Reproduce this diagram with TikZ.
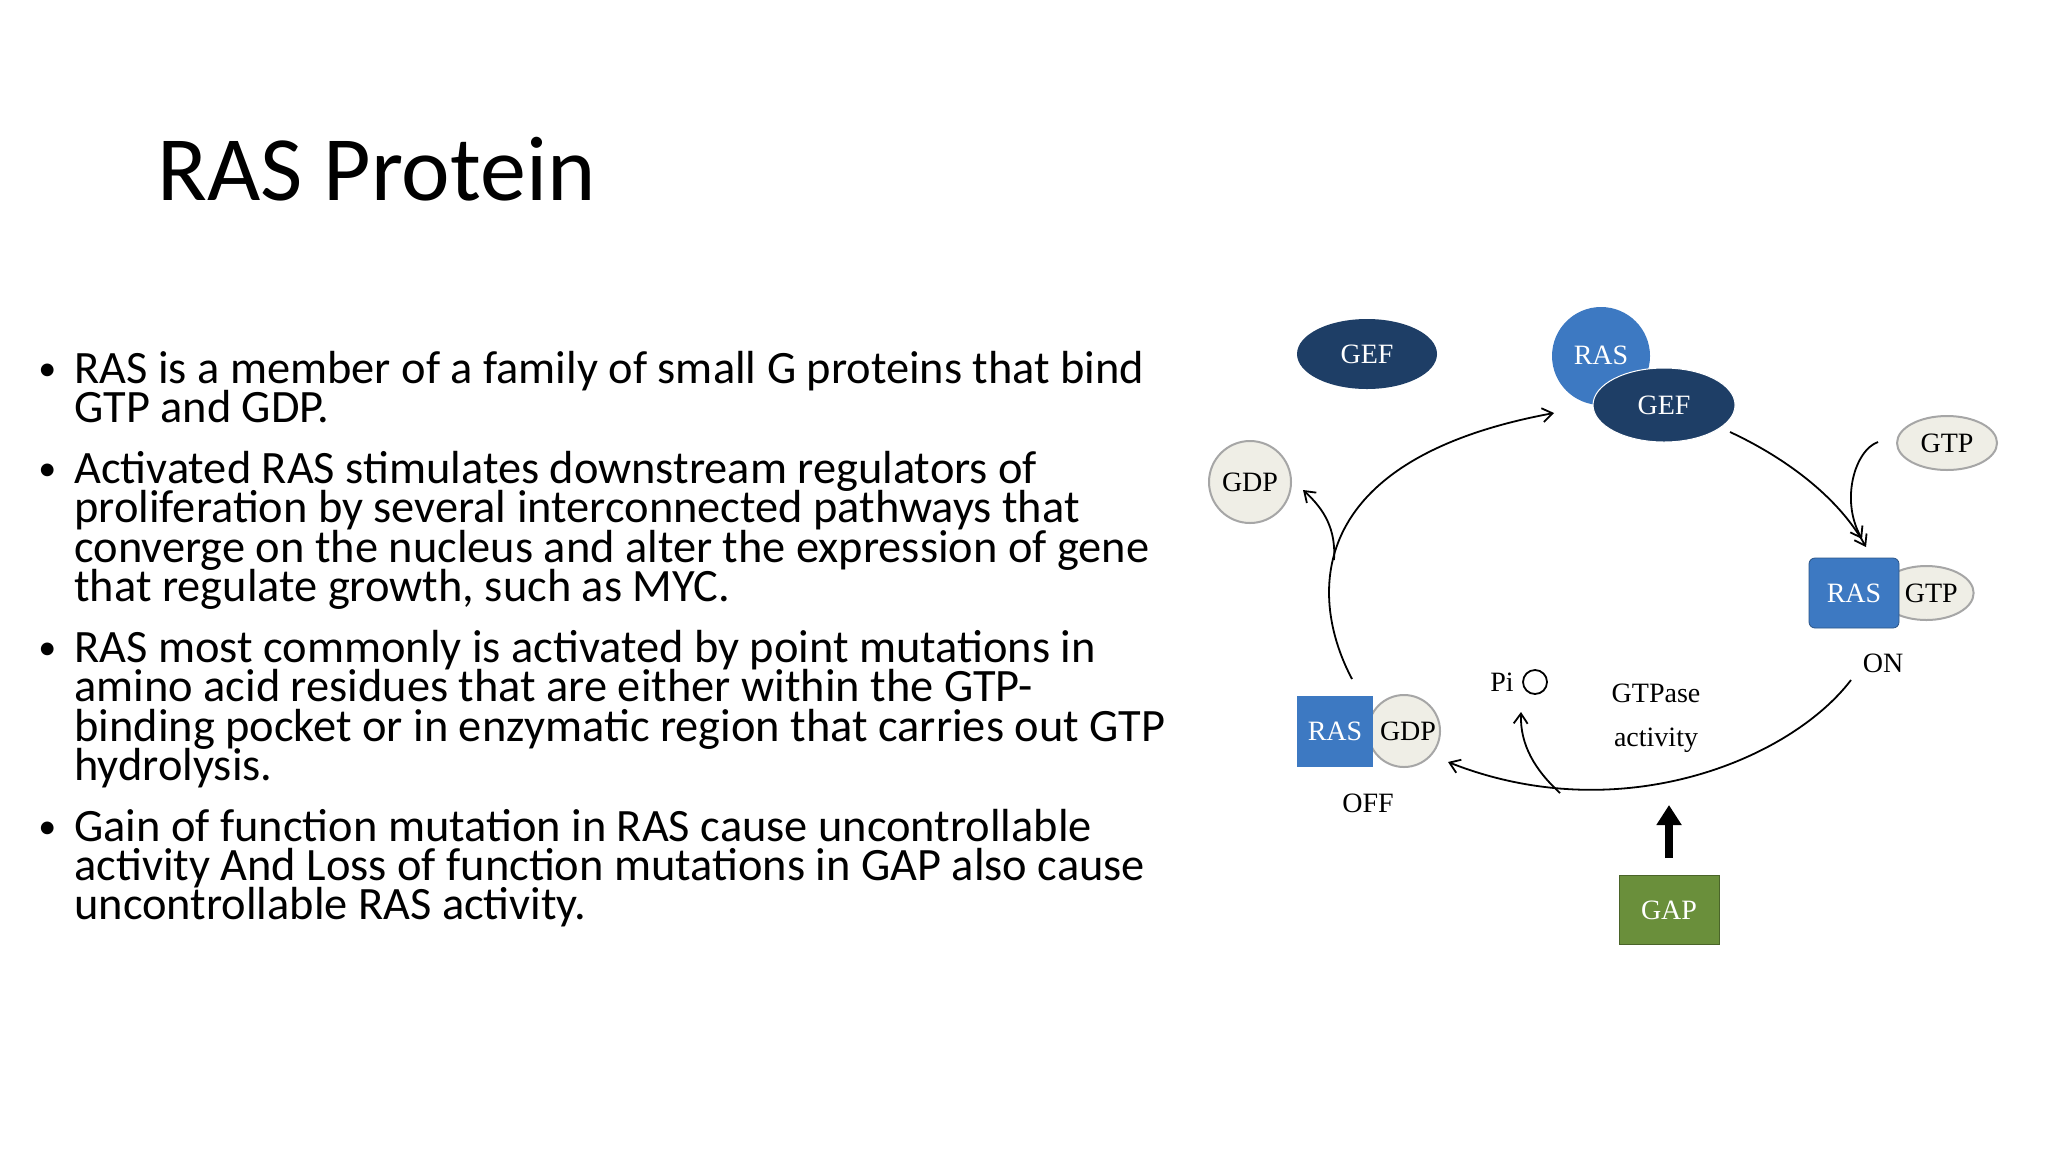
\documentclass[tikz,border=0pt]{standalone}
\usepackage{fontspec}
\setmainfont{Carlito}
\newfontfamily\dfont{Liberation Serif}
\usetikzlibrary{arrows.meta,shapes.geometric}
\definecolor{navy}{HTML}{1E3E66}
\definecolor{mblue}{HTML}{3D79C2}
\definecolor{pale}{HTML}{EFEEE6}
\definecolor{gapg}{HTML}{6A8F3B}
\begin{document}
\begin{tikzpicture}[x=0.5pt,y=-0.5pt,
  bl/.style={anchor=base west,inner sep=0,font=\fontsize{23.2}{26}\selectfont},
  dt/.style={font=\dfont\fontsize{14}{16}\selectfont,inner sep=1pt},
  darkell/.style={ellipse,fill=navy,text=white,dt},
  paleell/.style={ellipse,fill=pale,draw=gray!70,line width=1pt,dt},
  arr/.style={-{Straight Barb[length=5pt,width=7pt]},line width=0.9pt}]
\useasboundingbox[fill=white] (0,0) rectangle (2048,1152);
\node[anchor=base west,inner sep=0,font=\fontsize{46}{50}\selectfont] (title) at (157,200) {RAS Protein};
% bullets
\foreach \y in {383,483,662,841} \node[bl,font=\fontsize{18}{20}\selectfont] at (38,\y-3) {•};
\node[bl] (b1a) at (74,383) {RAS is a member of a family of small G proteins that bind};
\node[bl] (b1b) at (74,422) {GTP and GDP.};
\node[bl] (b2a) at (74,483) {Activated RAS stimulates downstream regulators of};
\node[bl] (b2b) at (74,522) {proliferation by several interconnected pathways that};
\node[bl] (b2c) at (74,562) {converge on the nucleus and alter the expression of gene};
\node[bl] (b2d) at (74,601) {that regulate growth, such as MYC.};
\node[bl] (b3a) at (74,662) {RAS most commonly is activated by point mutations in};
\node[bl] (b3b) at (74,701) {amino acid residues that are either within the GTP-};
\node[bl] (b3c) at (74,741) {binding pocket or in enzymatic region that carries out GTP};
\node[bl] (b3d) at (74,780) {hydrolysis.};
\node[bl] (b4a) at (74,841) {Gain of function mutation in RAS cause uncontrollable};
\node[bl] (b4b) at (74,880) {activity And Loss of function mutations in GAP also cause};
\node[bl] (b4c) at (74,919) {uncontrollable RAS activity.};
% diagram
\node[darkell,minimum width=70pt,minimum height=35pt] (gef1) at (1367,354) {GEF};
\node[circle,fill=mblue,text=white,dt,minimum size=49pt] (rasc) at (1601,356) {\raisebox{1pt}{RAS}};
\node[darkell,minimum width=71pt,minimum height=37pt,draw=white,line width=0.5pt] (gef2) at (1664,405) {GEF};
\node[paleell,minimum width=50pt,minimum height=27pt] (gtp1) at (1947,443) {GTP};
\node[paleell,circle,minimum size=41pt] (gdp1) at (1250,482) {GDP};
\node[paleell,minimum width=44pt,minimum height=27pt,anchor=west] (gtp2) at (1878,593) {\hspace{5pt}GTP};
\node[fill=mblue,draw=mblue!70!black,rounded corners=3pt,minimum width=45pt,minimum height=35pt,text=white,dt] (rasgtp) at (1854,593) {RAS};
\node[paleell,circle,minimum size=36pt] (gdp2) at (1404,731) {\hspace{4pt}GDP};
\node[fill=mblue,minimum width=38pt,minimum height=35.5pt,text=white,dt] (rasgdp) at (1335,731) {RAS};
\node[dt] (on) at (1883,663) {ON};
\node[dt] (off) at (1368,803) {OFF};
\node[dt,anchor=east] (pi) at (1516,682) {Pi};
\node[circle,draw,line width=0.9pt,minimum size=12pt,inner sep=0] (pic) at (1535,682) {};
\node[dt,align=center] (gtpase) at (1656,718) {GTPase\\[6pt]activity};
\node[fill=gapg,draw=gapg!70!black,minimum width=50pt,minimum height=34.5pt,text=white,dt] (gap) at (1669,910) {GAP};
\coordinate (s1) at (1352,679);
\coordinate (e1) at (1554,413);
\coordinate (br1) at (1334,560);
\coordinate (g1) at (1303,490);
\coordinate (s2) at (1730,432);
\coordinate (e2) at (1866,547);
\coordinate (s3) at (1878,442);
\coordinate (e3) at (1862,539);
\coordinate (s4) at (1851,680);
\coordinate (e4) at (1448,762);
\coordinate (br2) at (1560,793);
\coordinate (e5) at (1521,712);
\coordinate (ga1) at (1669,858);
\coordinate (ga2) at (1669,805);
\draw[arr] (s1) .. controls (1310,600) and (1300,460) .. (e1);
\draw[arr] (br1) .. controls (1336,530) and (1325,510) .. (g1);
\draw[arr] (s2) .. controls (1790,460) and (1840,500) .. (e2);
\draw[arr] (s3) .. controls (1855,450) and (1840,500) .. (e3);
\draw[arr] (s4) .. controls (1790,760) and (1620,830) .. (e4);
\draw[arr] (br2) .. controls (1535,770) and (1520,745) .. (e5);
\draw[-{Triangle[length=10pt,width=12pt]},line width=4pt] (ga1) -- (ga2);
\end{tikzpicture}
\end{document}
